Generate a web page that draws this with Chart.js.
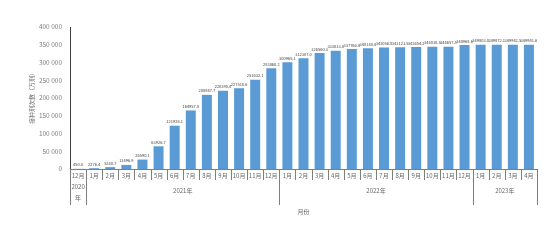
<!DOCTYPE html>
<html>
<head>
<meta charset="utf-8">
<script src="https://cdn.jsdelivr.net/npm/chart.js@4"></script>
<style>
  body { margin: 0; background: #fff; }
</style>
</head>
<body>
<canvas id="doseChart" width="550" height="242"></canvas>
<script>
// month categories, 2020-12 .. 2023-04
const months = ['12月',
  '1月', '2月', '3月', '4月', '5月', '6月', '7月', '8月', '9月', '10月', '11月', '12月',
  '1月', '2月', '3月', '4月', '5月', '6月', '7月', '8月', '9月', '10月', '11月', '12月',
  '1月', '2月', '3月', '4月'];

// cumulative doses (万剂)
const doses = [450.0,
  2276.4, 5240.7, 11496.9, 26590.1, 63926.7, 121926.1, 164957.0, 208847.7, 220390.4, 227518.6, 251632.1, 283860.2,
  300965.1, 312307.0, 326560.3, 333033.8, 337766.8, 340148.8, 342056.0, 343121.5, 343654.2, 344030.5, 344657.8, 348968.6,
  349803.0, 349872.1, 349942.5, 349981.6];

// year groups under the month row
const years = [['2020', '年'], ['2021年'], ['2022年'], ['2023年']];
const yearSpans = [1, 12, 12, 4];

const yTitle = '接种剂次数（万剂）';
const xTitle = '月份';

const FONT = "'Noto Sans CJK SC', 'Noto Sans', sans-serif";

const fmtThousands = v => String(v).replace(/\B(?=(\d{3})+(?!\d))/g, ' ');

// value labels above each bar
const barLabels = {
  id: 'barLabels',
  afterDatasetsDraw(chart) {
    const ctx = chart.ctx;
    const meta = chart.getDatasetMeta(0);
    ctx.save();
    ctx.font = '4px ' + FONT;
    ctx.fillStyle = '#404040';
    ctx.textAlign = 'center';
    ctx.textBaseline = 'bottom';
    meta.data.forEach((bar, i) => {
      ctx.fillText(doses[i].toFixed(1), bar.x, bar.y - 2);
    });
    ctx.restore();
  }
};

// separators, year labels and axis titles
const axisGroups = {
  id: 'axisGroups',
  afterDraw(chart) {
    const ctx = chart.ctx;
    const x = chart.scales.x;
    const area = chart.chartArea;
    const step = x.getPixelForValue(1) - x.getPixelForValue(0);
    const edge = i => x.getPixelForValue(i) - step / 2;

    const yearStarts = [0];
    yearSpans.forEach(n => yearStarts.push(yearStarts[yearStarts.length - 1] + n));

    ctx.save();
    ctx.strokeStyle = '#7f7f7f';
    ctx.lineWidth = 1;
    for (let i = 0; i <= months.length; i++) {
      const px = Math.round(edge(i)) + 0.5;
      const long = yearStarts.includes(i);
      ctx.beginPath();
      ctx.moveTo(px, area.bottom);
      ctx.lineTo(px, area.bottom + (long ? 36 : 11));
      ctx.stroke();
    }

    ctx.fillStyle = '#666666';
    ctx.font = '6px ' + FONT;
    ctx.textAlign = 'center';
    ctx.textBaseline = 'middle';
    years.forEach((lines, k) => {
      const cx = (edge(yearStarts[k]) + edge(yearStarts[k + 1])) / 2;
      if (lines.length === 1) {
        ctx.fillText(lines[0], cx, area.bottom + 22);
      } else {
        lines.forEach((t, j) => ctx.fillText(t, cx, area.bottom + 18 + j * 11));
      }
    });

    ctx.fillText(xTitle, (area.left + area.right) / 2, area.bottom + 43);

    ctx.translate(32, 97);
    ctx.rotate(-Math.PI / 2);
    ctx.fillText(yTitle, 0, 0);
    ctx.restore();
  }
};

new Chart(document.getElementById('doseChart'), {
  type: 'bar',
  data: {
    labels: months,
    datasets: [{
      data: doses,
      backgroundColor: '#5B9BD5',
      barPercentage: 0.62,
      categoryPercentage: 1.0
    }]
  },
  options: {
    responsive: false,
    animation: false,
    layout: { padding: { top: 27, right: 13, left: 0, bottom: 0 } },
    plugins: {
      legend: { display: false },
      tooltip: { enabled: false }
    },
    scales: {
      x: {
        offset: true,
        grid: { display: false, tickLength: 0 },
        border: { display: true, color: '#7f7f7f', width: 1 },
        ticks: {
          color: '#666666',
          font: { size: 6, family: FONT },
          padding: 3,
          maxRotation: 0,
          autoSkip: false
        },
        afterFit(scale) { scale.height = 73; }
      },
      y: {
        min: 0,
        max: 400000,
        grid: { display: false, tickLength: 0 },
        border: { display: true, color: '#404040', width: 1 },
        ticks: {
          stepSize: 50000,
          color: '#7f7f7f',
          font: { size: 6.5, family: FONT },
          padding: 8,
          callback: v => fmtThousands(v)
        },
        afterFit(scale) { scale.width = 70; }
      }
    }
  },
  plugins: [barLabels, axisGroups]
});
</script>
</body>
</html>
